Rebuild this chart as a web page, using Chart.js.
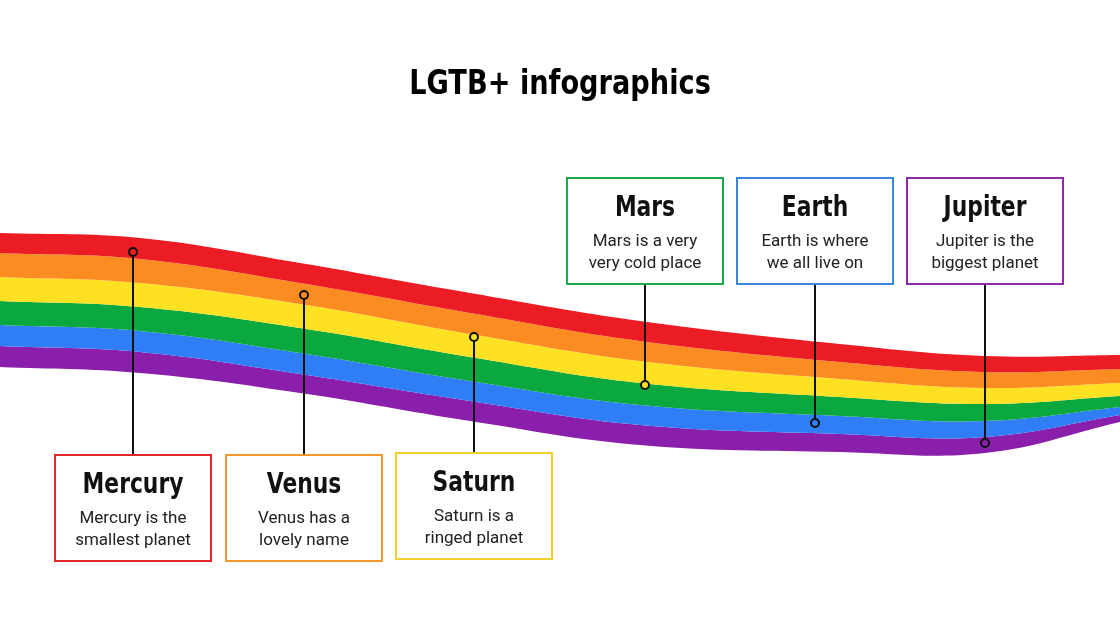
<!DOCTYPE html>
<html>
<head>
<meta charset="utf-8">
<script src="https://cdn.jsdelivr.net/npm/chart.js@4.4.0/dist/chart.umd.min.js"></script>
<style>
  body { margin: 0; background: #fff; }
  #wrap { width: 1120px; height: 630px; position: relative; }
</style>
</head>
<body>
<div id="wrap"><canvas id="chart"></canvas></div>
<script>
const waveX = [0, 140, 300, 470, 640, 840, 985, 1120];
// boundaries of the rainbow from top of red to bottom of purple
const edges = [
    [233, 238, 263, 293, 321, 344, 356, 355],
    [253, 259, 283, 313, 341, 362, 372, 369],
    [277, 283, 304, 334, 361, 379, 388, 383],
    [301, 307, 328, 357, 383, 397, 404, 396],
    [325, 331, 353, 381, 405, 416, 421, 407],
    [346, 352, 374, 401, 425, 434, 437, 415],
    [367, 373, 393, 421, 445, 452, 453, 422]
];
const bandColors = ["#ec1c24", "#fb8c22", "#fee123", "#0aa83f", "#2f7ef6", "#8a1fab"];

const planets = ["Mercury", "Venus", "Saturn", "Mars", "Earth", "Jupiter"];
const descriptions = [
    ["Mercury is the", "smallest planet"],
    ["Venus has a", "lovely name"],
    ["Saturn is a", "ringed planet"],
    ["Mars is a very", "very cold place"],
    ["Earth is where", "we all live on"],
    ["Jupiter is the", "biggest planet"]
];
const markerX = [133, 304, 474, 645, 815, 985];
const markerY = [252, 295, 337, 385, 423, 443];
const markerFill = ["#ec1c24", "#fb8c22", "#fee123", "#fee123", "#2f7ef6", "#8a1fab"];
const boxColors = ["#e3262b", "#f7962a", "#f2d12a", "#1faa4a", "#3a86dc", "#8e2aa6"];
const boxTop = [455, 455, 453, 178, 178, 178];
const boxW = 156, boxH = 106;

const datasets = [];
edges.forEach((row, i) => {
    datasets.push({
        data: waveX.map((x, j) => ({ x, y: row[j] })),
        showLine: true,
        borderWidth: 0,
        borderColor: "transparent",
        pointRadius: 0,
        tension: 0.4,
        fill: i === 0 ? false : "-1",
        backgroundColor: i === 0 ? "transparent" : bandColors[i - 1],
        order: 10
    });
});

planets.forEach((p, i) => {
    const top = markerY[i] < boxTop[i];
    const endY = top ? boxTop[i] : boxTop[i] + boxH;
    datasets.push({
        data: [{ x: markerX[i], y: markerY[i] }, { x: markerX[i], y: endY }],
        showLine: true,
        borderColor: "#111",
        borderWidth: 2,
        pointRadius: [4, 0],
        pointBorderWidth: 2,
        pointBorderColor: "#111",
        pointBackgroundColor: markerFill[i],
        fill: false,
        order: 1
    });
});

function narrowText(ctx, text, x, y, size, squeeze) {
    ctx.save();
    ctx.translate(x, y);
    ctx.scale(squeeze, 1);
    ctx.font = "bold " + size + "px 'DejaVu Sans', sans-serif";
    ctx.fillText(text, 0, 0);
    ctx.restore();
}

const boxPlugin = {
    id: "boxes",
    afterDatasetsDraw(chart) {
        const ctx = chart.ctx;
        const xs = chart.scales.x, ys = chart.scales.y;
        ctx.save();
        ctx.fillStyle = "#000";
        ctx.textAlign = "center";
        ctx.textBaseline = "middle";
        narrowText(ctx, "LGTB+ infographics", 560, 85, 34, 0.8);
        planets.forEach((p, i) => {
            const cx = xs.getPixelForValue(markerX[i]);
            const x0 = cx - boxW / 2;
            const y0 = ys.getPixelForValue(boxTop[i]);
            ctx.fillStyle = "#fff";
            ctx.fillRect(x0, y0, boxW, boxH);
            ctx.strokeStyle = boxColors[i];
            ctx.lineWidth = 2;
            ctx.strokeRect(x0, y0, boxW, boxH);
            ctx.fillStyle = "#111";
            narrowText(ctx, p, cx, y0 + 31, 28, 0.78);
            ctx.font = "17px Roboto, sans-serif";
            ctx.fillStyle = "#222";
            ctx.fillText(descriptions[i][0], cx, y0 + 64);
            ctx.fillText(descriptions[i][1], cx, y0 + 86);
        });
        ctx.restore();
    }
};

new Chart(document.getElementById("chart"), {
    type: "scatter",
    data: { datasets },
    options: {
        responsive: true,
        maintainAspectRatio: false,
        animation: false,
        layout: { padding: 0, autoPadding: false },
        plugins: { legend: { display: false }, tooltip: { enabled: false } },
        scales: {
            x: { type: "linear", min: 0, max: 1120, display: false },
            y: { type: "linear", min: 0, max: 630, reverse: true, display: false }
        }
    },
    plugins: [boxPlugin]
});
</script>
</body>
</html>
